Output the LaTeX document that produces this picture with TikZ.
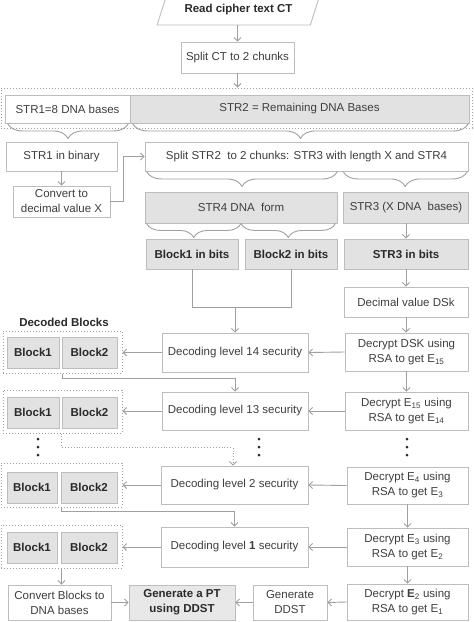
\documentclass[tikz,border=0pt]{standalone}
\usepackage{fontspec}
\setmainfont{Liberation Sans}
\usetikzlibrary{arrows.meta,shapes.geometric,decorations.pathreplacing,patterns}
\definecolor{txt}{HTML}{3E3E3E}
\definecolor{btxt}{HTML}{2A2A2A}
\definecolor{bord}{HTML}{BDBDBD}
\definecolor{ln}{HTML}{A0A0A0}
\definecolor{gfill}{HTML}{E2E2E2}
\begin{document}
\begin{tikzpicture}[x=1pt,y=-1pt,
  every node/.style={font=\fontsize{11.5}{15}\selectfont, text=txt, inner sep=1pt},
  box/.style={draw=bord, line width=0.9pt, fill=white, align=center},
  gbox/.style={box, fill=gfill},
  bld/.style={font=\bfseries\fontsize{11.5}{15}\selectfont, text=btxt},
  dbox/.style={draw=ln, dotted, line width=1pt, inner sep=0pt},
  conn/.style={draw=ln, line width=0.9pt},
  arr/.style={conn, -{Straight Barb[length=3.5pt,width=7pt]}},
  br/.style={draw=ln, line width=0.9pt, decorate, decoration={brace, mirror, amplitude=#1}},
  br/.default=15pt,
  ]
\useasboundingbox (0,0) rectangle (474,622);

% top
\node[trapezium, trapezium left angle=60, trapezium right angle=120, trapezium stretches=true,
      draw=bord, line width=0.9pt, minimum width=163pt, minimum height=30pt, bld] (read) at (238.5,10) {Read cipher text CT};
\node[box, minimum width=113pt, minimum height=31pt] (split1) at (237.5,57.5) {Split CT to 2 chunks};

% STR1 / STR2
\node[dbox, minimum width=471pt, minimum height=40pt] (outer) at (236.5,108) {};
\node[box, minimum width=125pt, minimum height=28pt] (str1) at (67.5,109) {STR1=8 DNA bases};
\node[gbox, minimum width=339pt, minimum height=28pt] (str2) at (299.5,109) {STR2 = Remaining DNA Bases};

\node[box, minimum width=111pt, minimum height=29pt] (str1bin) at (61.5,156.5) {STR1 in binary};
\node[box, minimum width=323pt, minimum height=29pt] (split2) at (306.5,156.5) {Split STR2~ to 2 chunks: STR3 with length X and STR4};
\node[box, minimum width=97pt, minimum height=31pt] (conv) at (61.5,201.5) {Convert to\\decimal value X};

\node[gbox, minimum width=192pt, minimum height=31pt] (str4) at (241,207.5) {STR4 DNA~ form};
\node[gbox, minimum width=125pt, minimum height=31pt] (str3) at (406,207.5) {STR3 (X DNA~ bases)};

\node[gbox, bld, minimum width=92pt, minimum height=30pt] (b1bits) at (192,254) {Block1 in bits};
\node[gbox, bld, minimum width=92pt, minimum height=30pt] (b2bits) at (291,254) {Block2 in bits};
\node[gbox, bld, minimum width=124pt, minimum height=30pt] (str3bits) at (406,254) {STR3 in bits};
\node[box, minimum width=124pt, minimum height=30pt] (dsk) at (406,302) {Decimal value DSk};

% rows
\node[bld] (dlabel) at (64,322) {Decoded Blocks};

\node[box, minimum width=146pt, minimum height=39pt] (dec14) at (235,352.5) {Decoding level 14 security};
\node[box, minimum width=123pt, minimum height=38pt] (rsa1) at (406.5,352) {Decrypt DSK using\\RSA to get E\textsubscript{15}};
\node[dbox, minimum width=119pt, minimum height=42pt] (rect1) at (62.5,352) {};
\node[gbox, bld, minimum width=52pt, minimum height=31pt] (b1a) at (33,352.5) {Block1};
\node[gbox, bld, minimum width=55pt, minimum height=31pt] (b2a) at (89.5,352.5) {Block2};

\node[box, minimum width=146pt, minimum height=38pt] (dec13) at (235,411) {Decoding level 13 security};
\node[box, minimum width=123pt, minimum height=38pt] (rsa2) at (406.5,411) {Decrypt E\textsubscript{15} using\\RSA to get E\textsubscript{14}};
\node[dbox, minimum width=119pt, minimum height=43pt] (rect2) at (62.5,411.5) {};
\node[gbox, bld, minimum width=52pt, minimum height=31pt] (b1b) at (33,412.5) {Block1};
\node[gbox, bld, minimum width=55pt, minimum height=31pt] (b2b) at (89.5,412.5) {Block2};

\node[box, minimum width=147pt, minimum height=38pt] (dec2) at (234.5,485) {Decoding level 2 security};
\node[box, minimum width=121pt, minimum height=37pt] (rsa3) at (407.5,485.5) {Decrypt E\textsubscript{4} using\\RSA to get E\textsubscript{3}};
\node[dbox, minimum width=121pt, minimum height=44pt] (rect3) at (61.5,485) {};
\node[gbox, bld, minimum width=50pt, minimum height=31pt] (b1c) at (32,487.5) {Block1};
\node[gbox, bld, minimum width=56pt, minimum height=31pt] (b2c) at (89,487.5) {Block2};

\node[box, minimum width=147pt, minimum height=40pt] (dec1) at (234.5,547) {Decoding level {\bfseries 1} security};
\node[box, minimum width=121pt, minimum height=38pt] (rsa4) at (407.5,547) {Decrypt E\textsubscript{3} using\\RSA to get E\textsubscript{2}};
\node[dbox, minimum width=121pt, minimum height=43pt] (rect4) at (61.5,546.5) {};
\node[gbox, bld, minimum width=50pt, minimum height=31pt] (b1d) at (32,547.5) {Block1};
\node[gbox, bld, minimum width=56pt, minimum height=31pt] (b2d) at (89,547.5) {Block2};

% bottom row
\node[box, minimum width=103pt, minimum height=35pt] (convb) at (59.5,602.5) {Convert Blocks to\\DNA bases};
\node[box, bld, minimum width=106pt, minimum height=35pt, preaction={fill=gfill!70}, pattern=north east lines, pattern color=gray!22] (genpt) at (182,602.5) {Generate a PT\\using DDST};
\node[box, minimum width=74pt, minimum height=35pt] (gend) at (290,602.5) {Generate\\DDST};
\node[box, minimum width=121pt, minimum height=36pt] (rsa5) at (407.5,602) {Decrypt {\bfseries E}\textsubscript{2} using\\RSA to get E\textsubscript{1}};

% connectors top
\draw[arr] (split1.north |- read.south) -- (split1.north);
\draw[arr] (split1.south) -- (split1.south |- outer.north);
\draw[br] ([xshift=3pt]str1.south west) -- ([xshift=-2pt]str1.south east);
\draw[br] ([xshift=3pt]str2.south west) -- ([xshift=-1pt]str2.south east);
\draw[arr] (str1bin.south) -- (str1bin.south |- conv.north);
\draw[arr] (conv.east) -- ++(13,0) |- (split2.west);
\draw[br] ([xshift=2pt]split2.south west) -- (split2.south -| str4.east);
\draw[br] (split2.south -| str3.west) -- ([xshift=-1pt]split2.south east);
\draw[br=14pt] ([xshift=2pt]str4.south west) -- (str4.south);
\draw[br=14pt] (str4.south) -- ([xshift=-2pt]str4.south east);
\draw[arr] (str3.south) -- (str3bits.north);
\draw[arr] (str3bits.south) -- (dsk.north);
\draw[conn] (b1bits.south) -- ++(0,38) coordinate (jl) -| (b2bits.south);
\coordinate (jn) at (dec14.north |- jl);
\draw[arr] (jn) -- (dec14.north);
\draw[arr] (dsk.south) -- (dsk.south |- rsa1.north);

% rows
\draw[arr] (rsa1.west) -- (dec14.east);
\draw[arr] (dec14.west) -- (dec14.west -| rect1.east);
\draw[arr] (rsa1.south) -- (rsa2.north);
\draw[arr] (rect1.south) -- ++(0,5) -| (dec13.north);
\draw[arr] (rsa2.west) -- (dec13.east);
\draw[arr] (dec13.west) -- (dec13.west -| rect2.east);
\draw[arr, dotted] ([xshift=-1pt]rect2.south) -- ++(0,14) -| ([xshift=-1.5pt]dec2.north);
\draw[arr] (rsa3.west) -- (dec2.east);
\draw[arr] (dec2.west) -- (dec2.west -| rect3.east);
\draw[arr] (rsa3.south) -- (rsa4.north);
\draw[arr] (rect3.south) -- ++(0,4) -| (dec1.north);
\draw[arr] (rsa4.west) -- (dec1.east);
\draw[arr] (dec1.west) -- (dec1.west -| rect4.east);
\draw[arr] (rsa4.south) -- (rsa4.south |- rsa5.north);
\draw[arr] (rect4.south) -- (rect4.south |- convb.north);
\draw[arr] (convb.east) -- (genpt.west);
\draw[arr] (gend.west) -- (genpt.east);
\draw[arr] (rsa5.west) -- (gend.east);

% vertical dots
\foreach \x in {38,259,407} {
  \foreach \y in {439,447,455} { \fill[black!85] (\x,\y) circle (1.5pt); }
}
\end{tikzpicture}
\end{document}
